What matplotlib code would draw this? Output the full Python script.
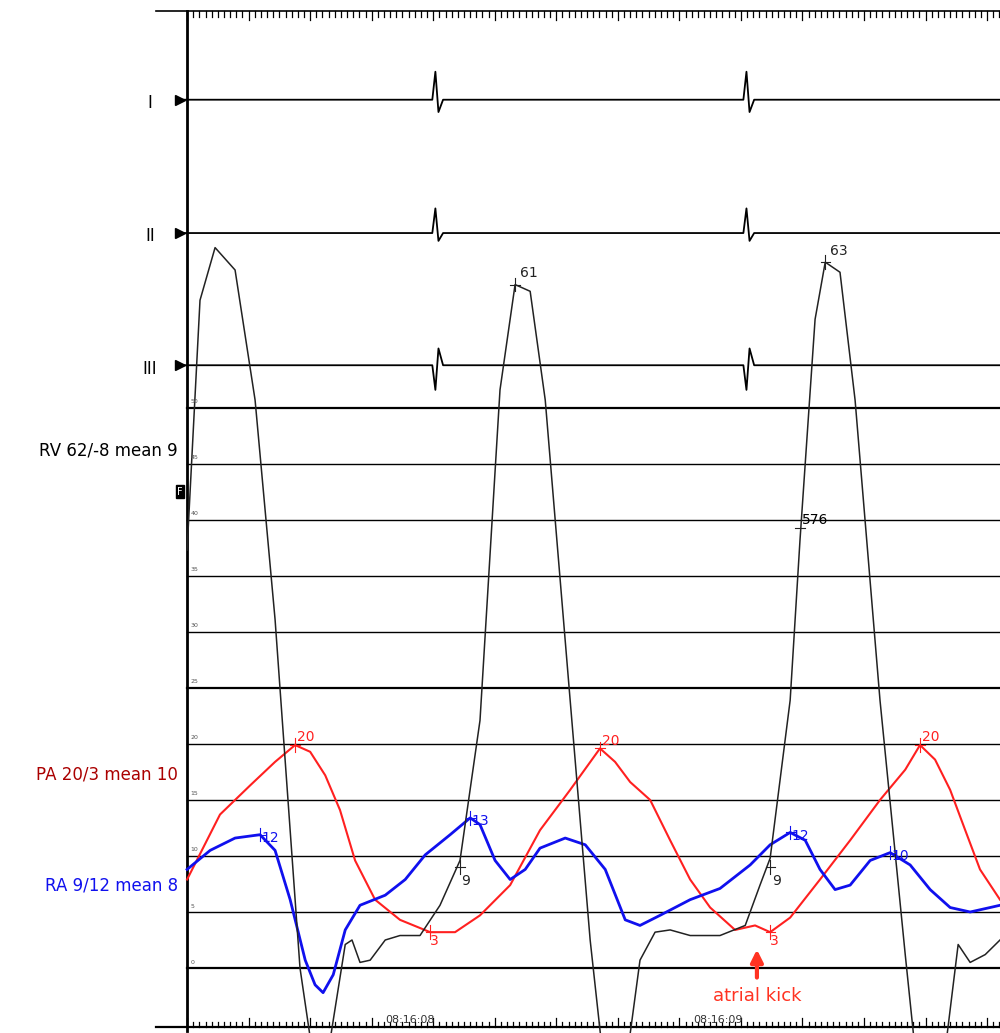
import numpy as np
import matplotlib
matplotlib.use("Agg")
import matplotlib.pyplot as plt

# ---- data (time in ms, pressure in mmHg) ----
rv_t = [0,42,91,156,221,286,367,406,439,465,514,536,562,595,644,692,757,822,887,952,1017,1066,1115,1164,1245,1310,1349,1391,1433,1472,1521,1570,1635,1732,1814,1862,1895,1960,1992,2041,2074,2122,2171,2252,2334,2366,2415,2464,2506,2545,2594,2642]
rv_p = [37.3,59.6,64.3,62.3,50.7,31.1,0,-7.3,-8.2,-6.4,2.1,2.5,0.5,0.7,2.5,2.9,2.9,5.6,9.6,22.1,51.6,61,60.4,50.7,23.9,2.5,-7.3,-8.2,-7.3,0.7,3.2,3.4,2.9,2.9,3.8,7.4,9.8,23.9,38.2,57.9,63,62.1,50.7,23.9,1.2,-7.3,-8.2,-7.3,2.1,0.5,1.2,2.5]
pa_t = [0,107,205,286,351,400,449,497,546,611,692,790,871,952,1050,1147,1245,1342,1391,1440,1505,1570,1635,1700,1781,1846,1895,1960,2057,2155,2252,2334,2382,2431,2480,2529,2577,2642]
pa_p = [7.9,13.7,16.3,18.4,19.9,19.3,17.2,14.1,9.6,6.1,4.3,3.2,3.2,4.7,7.4,12.3,15.9,19.6,18.4,16.6,15,11.4,7.9,5.4,3.4,3.8,3.2,4.5,7.9,11.4,15,17.7,19.9,18.6,15.9,12.3,8.8,6.1]
ra_t = [0,75,156,237,286,335,384,416,442,475,514,562,644,709,774,855,920,952,1001,1050,1099,1147,1229,1294,1359,1424,1472,1537,1635,1732,1830,1895,1960,2009,2057,2106,2155,2220,2285,2350,2415,2480,2545,2610,2642]
ra_p = [8.8,10.5,11.6,11.9,10.5,6.1,0.7,-1.5,-2.2,-0.6,3.4,5.6,6.5,7.9,10.1,11.9,13.4,12.8,9.6,7.9,8.8,10.7,11.6,11,8.8,4.3,3.8,4.7,6.1,7.1,9.2,11,12.1,11.4,8.8,7,7.4,9.6,10.3,9.2,7,5.4,5,5.4,5.6]

ecg_leads = ["I", "II", "III"]
ecg_base = [77.5, 65.6, 53.8]
qrs_times = [812, 1823]
qrs_offsets = [-15, -5, 5, 20]
qrs_shape = {"I": [0, 2.5, -1.1, 0], "II": [0, 2.2, -0.7, 0], "III": [0, -2.2, 1.5, 0]}

grid_levels = [0, 5, 10, 15, 20, 25, 30, 35, 40, 45, 50]
time_labels = ["08:16:08", "08:16:09"]
time_label_t = [725, 1726]

rv_marks = [(1066, 61, "61"), (2074, 63, "63"), (887, 9, "9"), (1895, 9, "9")]
pa_marks = [(351, 19.9, "20"), (1342, 19.6, "20"), (2382, 19.9, "20"), (790, 3.2, "3"), (1895, 3.2, "3")]
ra_marks = [(237, 11.9, "12"), (920, 13.4, "13"), (1960, 12.1, "12"), (2285, 10.3, "10")]

fig = plt.figure(figsize=(10, 10.33), dpi=100)
ax = fig.add_axes([0, 0, 1, 1])
ax.set_xlim(-608, 2642)
ax.set_ylim(-5.8, 86.4)
ax.axis("off")

# grid
for g in grid_levels:
    lw = 1.6 if g in (0, 25, 50) else 1.0
    ax.plot([0, 2642], [g, g], color="black", lw=lw)
    ax.text(12, g + 0.4, str(g), fontsize=4.5, color="#555555")

# axis & rulers
ax.plot([0, 0], [-5.6, 85.4], color="black", lw=2)
for yr, d in [(85.4, -0.5), (-5.3, 0.5)]:
    ax.plot([-100, 2642], [yr, yr], color="black", lw=1.2 if yr > 0 else 1.6)
    for tt in np.arange(0, 2642, 20):
        big = (tt % 200 == 0)
        ax.plot([tt, tt], [yr, yr + d * (1.6 if big else 1)], color="black", lw=0.9)

# ECG
for lead, base in zip(ecg_leads, ecg_base):
    xs, ys = [-20], [base]
    for q in qrs_times:
        for o, v in zip(qrs_offsets, qrs_shape[lead]):
            xs.append(q + o); ys.append(base + v)
    xs.append(2642); ys.append(base)
    ax.plot(xs, ys, color="black", lw=1.3)
    ax.plot([-24], [base], marker=">", color="black", ms=7)
    ax.text(-120, base - 0.3, lead, fontsize=12, ha="center", va="center")

ax.plot(pa_t, pa_p, color="#ff2020", lw=1.5)
ax.plot(ra_t, ra_p, color="#1010ee", lw=2)
ax.plot(rv_t, rv_p, color="#222222", lw=1.1)

def marks(lst, color, dx=15, dy=1.0):
    for t, p, s in lst:
        ax.plot([t - 15, t + 15], [p, p], color=color, lw=0.8)
        ax.plot([t, t], [p - 0.6, p + 0.6], color=color, lw=0.8)
        ax.text(t + dx, p + dy, s, color=color, fontsize=10, va="center")

marks(rv_marks[:2], "#222222")
marks(rv_marks[2:], "#222222", dx=5, dy=-1.2)
marks(pa_marks[:3], "#ff2020", dx=5, dy=0.7)
marks(pa_marks[3:], "#ff2020", dx=0, dy=-0.8)
marks(ra_marks, "#1010ee", dx=5, dy=-0.3)
ax.plot([1992 - 15, 1992 + 15], [39.3, 39.3], color="#222222", lw=0.8)
ax.text(1997, 40.0, "576", fontsize=10, va="center")

ax.text(-30, 46.2, "RV 62/-8 mean 9", fontsize=12, ha="right", va="center")
ax.text(-30, 17.3, "PA 20/3 mean 10", fontsize=12, ha="right", va="center", color="#aa0000")
ax.text(-30, 7.4, "RA 9/12 mean 8", fontsize=12, ha="right", va="center", color="#1010ee")
ax.text(-23, 42.5, "F", fontsize=7, ha="center", va="center", color="white",
        bbox=dict(boxstyle="square,pad=0.15", fc="black", ec="black"))

for s, t in zip(time_labels, time_label_t):
    ax.text(t, -4.6, s, fontsize=8, ha="center", va="center", color="#333333")

ax.annotate("", xy=(1852, 1.9), xytext=(1852, -1.1),
            arrowprops=dict(arrowstyle="-|>", color="#ff3322", lw=3, mutation_scale=18))
ax.text(1852, -2.5, "atrial kick", color="#ff3322", fontsize=13, ha="center", va="center")

fig.savefig("out.png", dpi=100)
